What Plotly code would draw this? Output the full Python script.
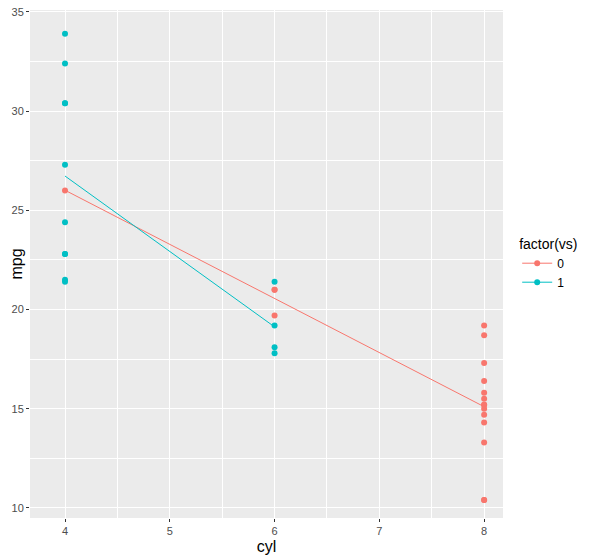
import numpy as np
import plotly.graph_objects as go

# mtcars: cyl / mpg split by vs
cyl_vs0 = [6, 6, 8, 8, 8, 8, 8, 8, 8, 8, 8, 8, 8, 8, 4, 8, 6, 8]
mpg_vs0 = [21.0, 21.0, 18.7, 14.3, 16.4, 17.3, 15.2, 10.4, 10.4, 14.7,
           15.5, 15.2, 13.3, 19.2, 26.0, 15.8, 19.7, 15.0]
cyl_vs1 = [4, 6, 6, 4, 4, 6, 6, 4, 4, 4, 4, 4, 4, 4]
mpg_vs1 = [22.8, 21.4, 18.1, 24.4, 22.8, 19.2, 17.8, 32.4, 30.4, 33.9,
           21.5, 27.3, 30.4, 21.4]

groups = [("0", cyl_vs0, mpg_vs0, "#F8766D"), ("1", cyl_vs1, mpg_vs1, "#00BFC4")]

fig = go.Figure()
for name, x, y, col in groups:
    x = np.array(x); y = np.array(y)
    fig.add_scatter(x=x, y=y, mode="markers", marker=dict(color=col, size=6),
                    name=name, legendgroup=name, showlegend=False)
    b, a = np.polyfit(x, y, 1)
    xs = np.array([x.min(), x.max()])
    fig.add_scatter(x=xs, y=a + b * xs, mode="lines",
                    line=dict(color=col, width=1),
                    name=name, legendgroup=name, showlegend=False)
    # legend key: point + line, like ggplot
    fig.add_scatter(x=[None], y=[None], mode="lines+markers",
                    line=dict(color=col, width=1), marker=dict(color=col, size=6),
                    name=name, legendgroup=name)

grid = dict(showgrid=True, gridcolor="white", gridwidth=1.2, zeroline=False,
            ticks="outside", ticklen=3, tickcolor="#333", automargin=False,
            ticklabeloverflow="allow",
            tickfont=dict(color="#4d4d4d", size=11),
            minor=dict(showgrid=True, gridcolor="white", gridwidth=0.5))
fig.update_xaxes(range=[3.666, 8.18], dtick=1, title=dict(text="cyl", standoff=4),
                 minor_dtick=0.5, **grid)
fig.update_yaxes(range=[9.49, 35.1], dtick=5, title=dict(text="mpg", standoff=4),
                 minor_dtick=2.5, **grid)
fig.update_layout(
    width=595, height=558, plot_bgcolor="#EBEBEB", paper_bgcolor="white",
    margin=dict(l=22, r=100, t=2, b=48),
    font=dict(family="Liberation Sans, Arial", size=13, color="black"),
    legend=dict(title=dict(text="factor(vs)"), x=1.03, y=0.5, yanchor="middle",
                font=dict(size=12), bgcolor="white", tracegroupgap=0),
)
fig.write_html("out.html")
